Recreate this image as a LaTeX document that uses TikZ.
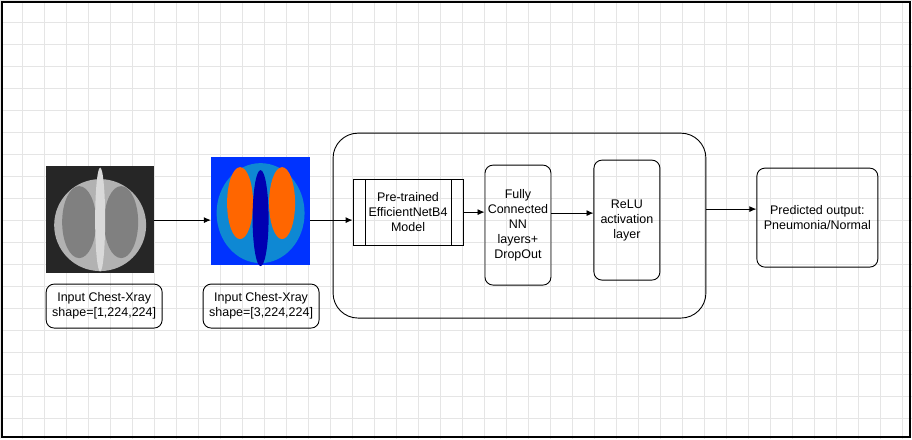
\documentclass[tikz,border=0pt]{standalone}
\usepackage{fontspec}
\setmainfont{Liberation Sans}
\usetikzlibrary{arrows.meta}
\begin{document}
\begin{tikzpicture}[x=1pt,y=-1pt,
  box/.style={draw=black,line width=0.9pt,rounded corners=8pt,align=center,font=\fontsize{12.5}{15}\selectfont,inner sep=0pt},
  arr/.style={draw=black,line width=0.9pt,-{Latex[length=7pt,width=6pt]}}]
\fill[white] (0,0) rectangle (912,439);
\foreach \i in {0,22,...,910} \draw[black!10] (\i,0) -- (\i,439);
\foreach \j in {0,22,...,438} \draw[black!10] (0,\j) -- (912,\j);
\draw[line width=2pt] (2,2) rectangle (910,437);
% xray 1
\node[fill=black!85,minimum width=108pt,minimum height=107pt,inner sep=0pt] (x1) at (100,219.5) {};
\fill[black!30] (100,225) ellipse (46 and 46);
\fill[black!50] (79,222) ellipse (17 and 36);
\fill[black!50] (121,222) ellipse (17 and 36);
\fill[black!15] (100,219.5) ellipse (5 and 52);
% xray 2
\node[fill=blue!80!cyan,minimum width=99pt,minimum height=108pt,inner sep=0pt] (x2) at (260.5,211) {};
\fill[cyan!70!blue] (260.5,213) ellipse (44 and 50);
\fill[orange!80!red] (240,203) ellipse (13 and 36);
\fill[orange!80!red] (282,203) ellipse (13 and 36);
\fill[blue!70!black] (260.5,218) ellipse (8 and 48);
\node[box] (l1) at (104,306) [minimum width=116pt,minimum height=44pt] {Input Chest-Xray\\shape=[1,224,224]};
\node[box] (l2) at (261,306) [minimum width=116pt,minimum height=44pt] {Input Chest-Xray\\shape=[3,224,224]};
\node[box,rounded corners=25pt,minimum width=373pt,minimum height=185pt] (big) at (519.5,225.5) {};
\node[draw,line width=0.9pt,minimum width=110pt,minimum height=66pt,align=center,font=\fontsize{12.5}{15}\selectfont,inner sep=0pt] (pre) at (408,212) {Pre-trained\\EfficientNetB4\\Model};
\draw[line width=0.9pt] (365,179) -- (365,245) (451,179) -- (451,245);
\node[box,minimum width=66pt,minimum height=120pt] (fc) at (518,225) {Fully\\Connected\\NN\\layers+\\DropOut};
\node[box,minimum width=66pt,minimum height=120pt] (relu) at (627,220) {ReLU\\activation\\layer};
\node[box,minimum width=121pt,minimum height=99pt] (out) at (817.5,217.5) {Predicted output:\\Pneumonia/Normal};
\draw[arr] (x1.east |- 0,220) -- (x2.west |- 0,220);
\draw[arr] (x2.east |- 0,220) -- (pre.west |- 0,220);
\draw[arr] (pre.east |- 0,212) -- (fc.west |- 0,212);
\draw[arr] (fc.east |- 0,213) -- (relu.west |- 0,213);
\draw[arr] (big.east |- 0,209) -- (out.west |- 0,209);
\end{tikzpicture}
\end{document}
